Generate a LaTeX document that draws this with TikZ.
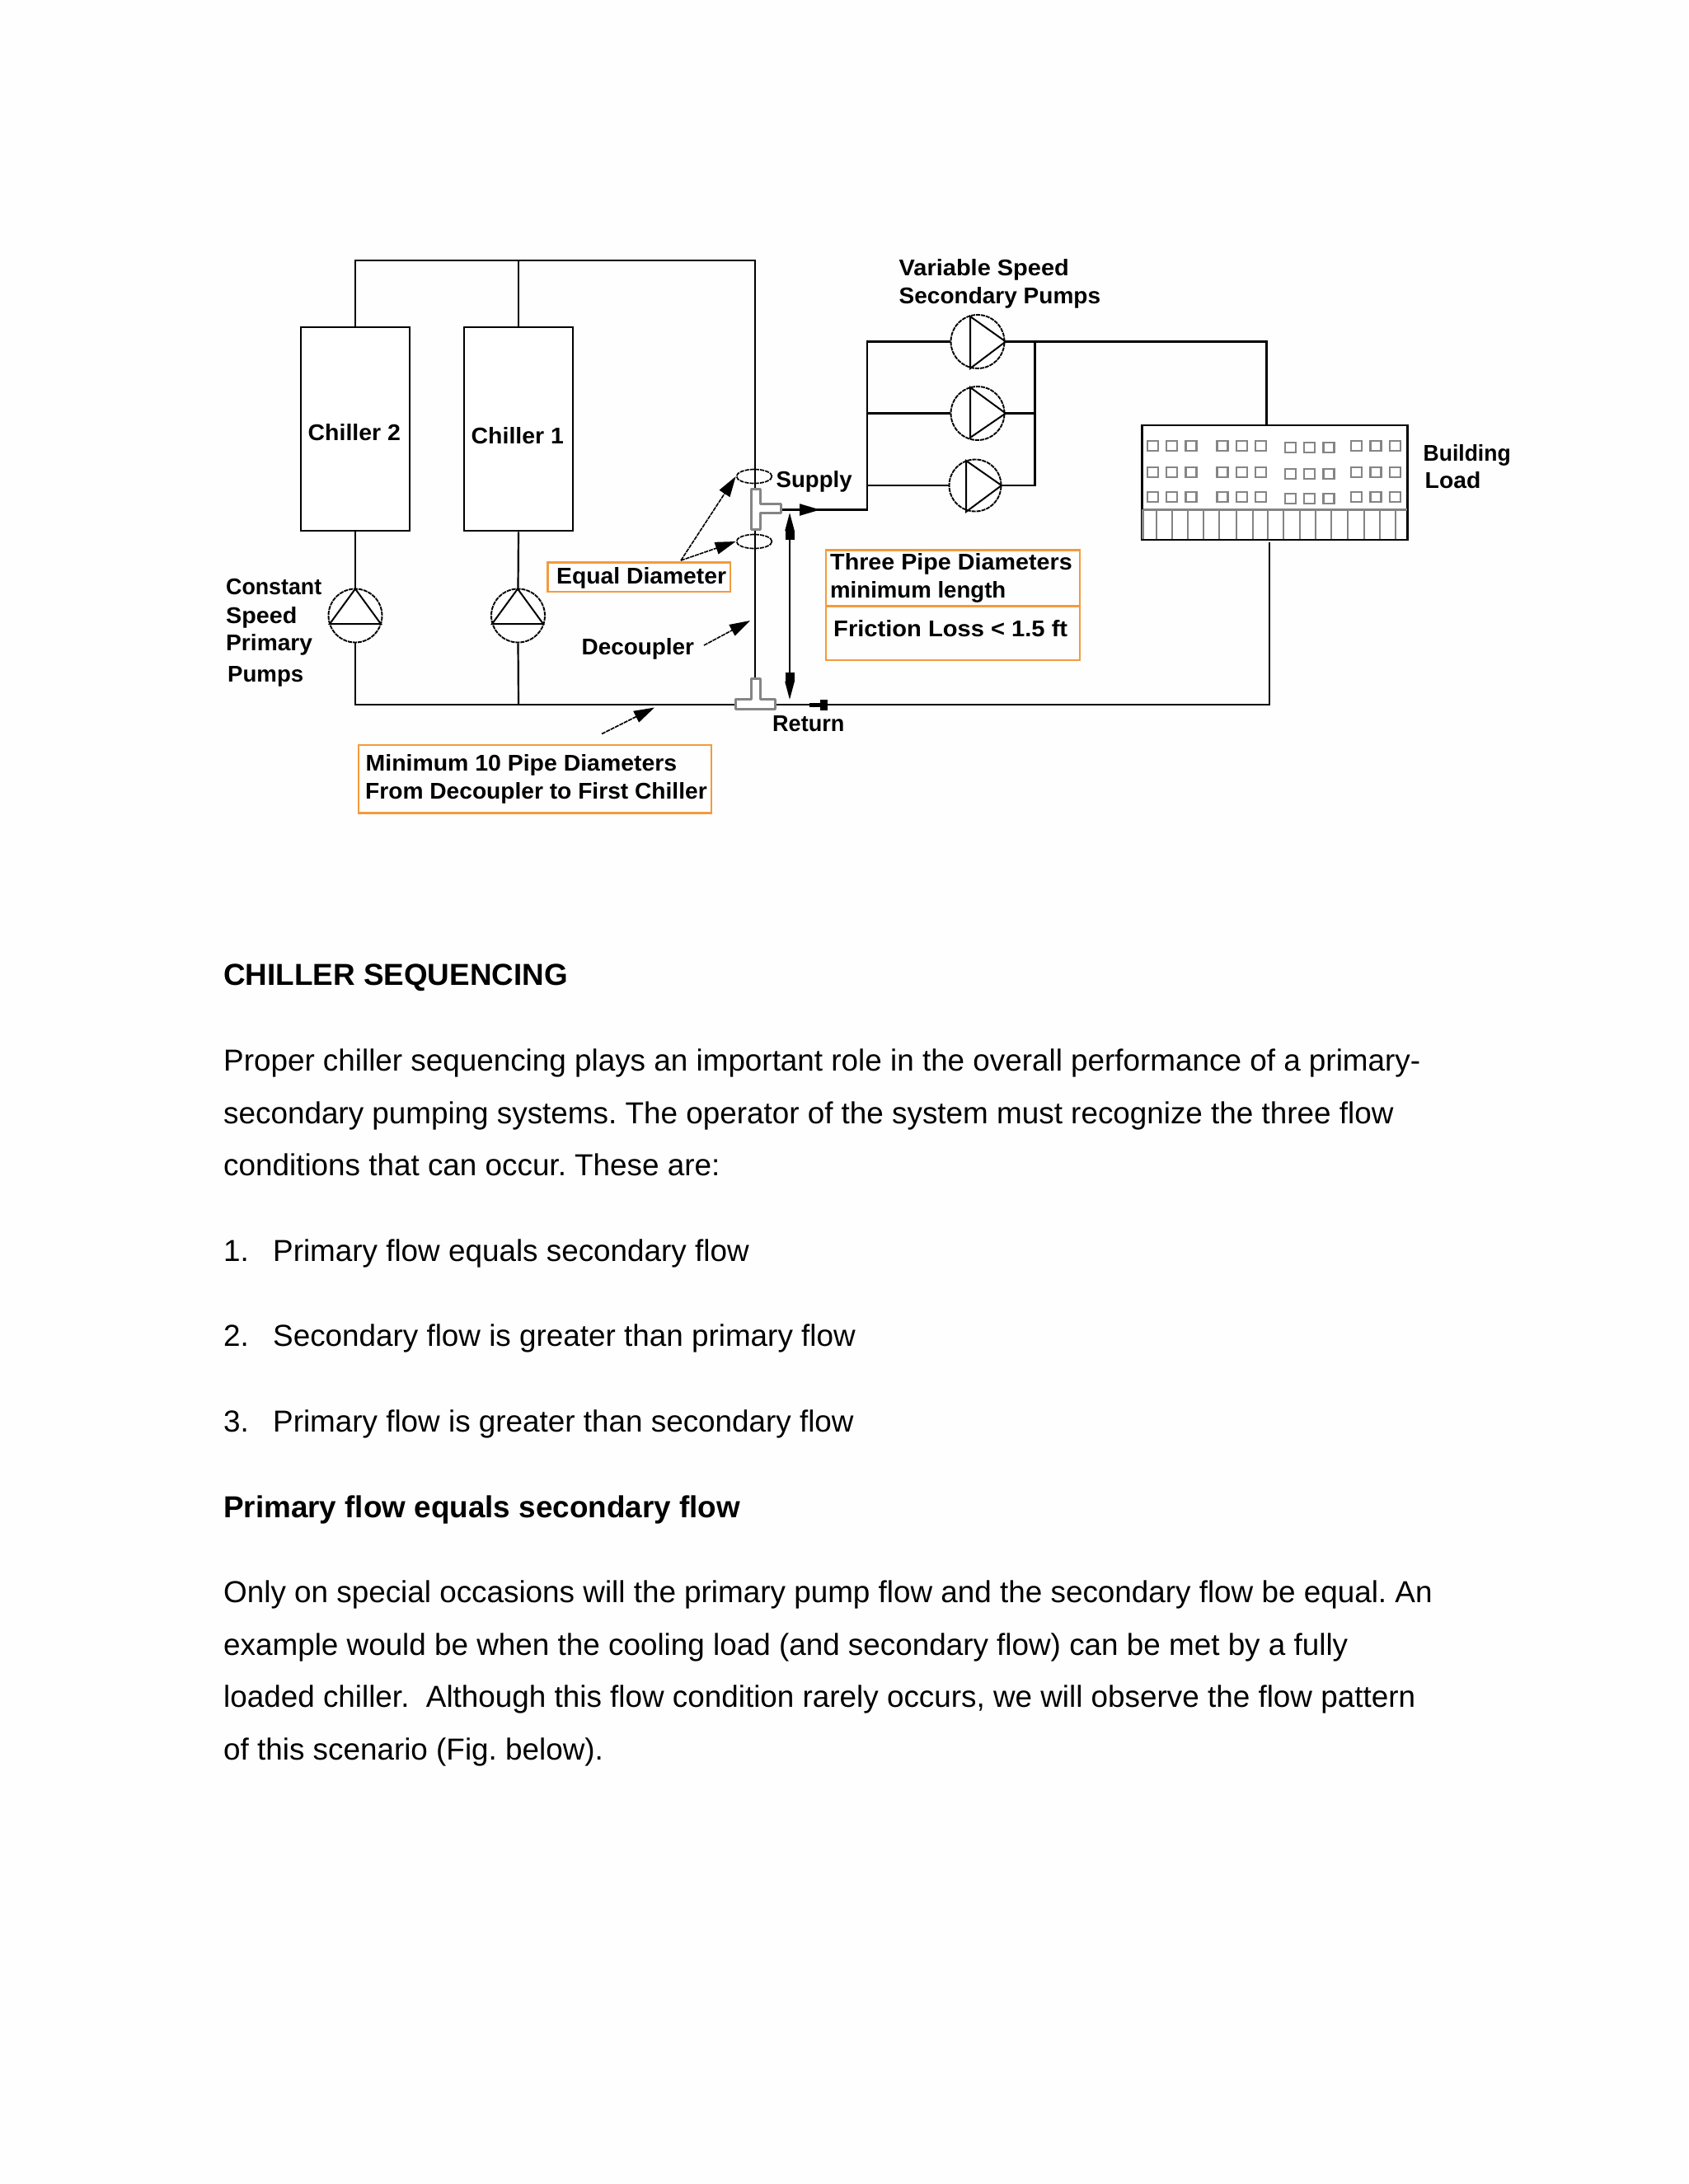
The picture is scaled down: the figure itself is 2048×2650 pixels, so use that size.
\documentclass[tikz,border=0pt]{standalone}
\usepackage{fontspec}
\setmainfont{Liberation Sans}
\usetikzlibrary{arrows.meta,shapes.geometric}
\definecolor{orangebox}{HTML}{F39B3E}
\definecolor{greyline}{HTML}{858585}
\newcommand{\sx}[2]{\scalebox{#1}[1]{#2}}
\tikzset{
  pipe/.style={draw=black,line width=2.2pt},
  chiller/.style={draw=black,line width=2.6pt,fill=white,minimum width=132pt,minimum height=247pt,inner sep=0pt},
  pumpc/.style={circle,draw=black,line width=1.9pt,dash pattern=on 5pt off 1pt,fill=white,minimum size=65pt,inner sep=0pt},
  pumpline/.style={draw=black,line width=2pt},
  ring/.style={ellipse,draw=black,line width=1.7pt,dash pattern=on 5pt off 1.2pt,minimum width=43pt,minimum height=17pt,inner sep=0pt},
  tee/.style={draw=greyline,line width=3pt,fill=white,line join=round},
  lbl/.style={anchor=base west,inner sep=0pt,font=\frenchspacing\fontsize{27.6}{30}\selectfont\bfseries},
  body/.style={anchor=base west,inner sep=0pt,font=\frenchspacing\fontsize{36.85}{44}\selectfont},
  bodyb/.style={body,font=\frenchspacing\fontsize{36.85}{44}\selectfont\bfseries},
  obox/.style={draw=orangebox,line width=2.6pt},
  win/.style={draw=greyline,line width=2.2pt},
  fat/.style={draw=black,line width=2.2pt},
  wedge/.style={draw=black,line width=2.2pt,-{Triangle[length=25pt,width=14pt]}},
  pointer/.style={draw=black,line width=1.6pt,dash pattern=on 5pt off 1pt,-{Triangle[length=25pt,width=15pt]}},
  stub/.style={draw=black,line width=5pt,-{Rectangle[length=9pt,width=13pt]}},
}
\begin{document}
\begin{tikzpicture}[x=1pt,y=-1pt]
\useasboundingbox (0,0) rectangle (2048,2650);
\fill[white!99.5!black] (0,0) rectangle (2048,2650);

% pipes and named junctions
\coordinate (topL) at (431,316);
\coordinate (topM) at (629,316);
\coordinate (topR) at (916,316);
\coordinate (botL) at (431,855);
\coordinate (botM) at (629,855);
\coordinate (retT) at (916,855);
\coordinate (retE) at (1540,855);
\coordinate (supT) at (947,618.5);
\coordinate (manA) at (1052,618.5);
\coordinate (manB) at (1052,414.5);
\coordinate (manC) at (1052,501.5);
\coordinate (manD) at (1052,589);
\coordinate (outA) at (1255.5,414.5);
\coordinate (outB) at (1255.5,501.5);
\coordinate (outC) at (1255.5,589);
\coordinate (outE) at (1536.5,414.5);

\node[chiller] (ch2) at (431,520.5) {};
\node[chiller] (ch1) at (629,520.5) {};
\node[pumpc] (pp2) at (431,747) {};
\node[pumpc] (pp1) at (628.5,747) {};
\node[pumpc] (sp1) at (1186,414.5) {};
\node[pumpc] (sp2) at (1186,501.5) {};
\node[pumpc,minimum size=63pt] (sp3) at (1183,589) {};
\node[draw=black,line width=2.6pt,fill=white,minimum width=322pt,minimum height=139pt,inner sep=0pt] (bld) at (1546.5,585.5) {};

\draw[pipe] (ch2.north) -- (topL) -- (topR) -- (retT);
\draw[pipe] (ch1.north) -- (topM);
\draw[pipe] (ch2.south) -- (pp2.north);
\draw[pipe] (ch1.south) -- (pp1.north);
\draw[pipe] (pp2.south) -- (botL) -- (retE) -- (1540,658);
\draw[pipe] (pp1.south) -- (botM);
\draw[pipe] (supT) -- (manA) -- (manB) -- (sp1.west);
\draw[pipe] (manC) -- (sp2.west);
\draw[pipe] (manD) -- (sp3.west);
\draw[pipe] (sp1.east) -- (outE) -- (bld.north -| outE);
\draw[pipe] (outA) -- (outC) -- (sp3.east);
\draw[pipe] (sp2.east) -- (outB);

% pump symbols
\draw[pumpline] (431,714.5) -- (400,757) -- (462,757) -- cycle;
\draw[pumpline] (628,714.5) -- (597,757) -- (659,757) -- cycle;
\draw[pumpline] (1220,414.5) -- (1177,384) -- (1177,447) -- cycle;
\draw[pumpline] (1220,501.5) -- (1177,470) -- (1177,531) -- cycle;
\draw[pumpline] (1215,589) -- (1172,559) -- (1172,621) -- cycle;

% decoupler fittings
\node[ring] (r1) at (915,578) {};
\node[ring] (r2) at (915,657) {};
\draw[tee] (911,593) -- (922,593) -- (922,611) -- (947,611) -- (947,622) -- (922,622) -- (922,642) -- (911,642) -- cycle;
\draw[tee] (911,823) -- (922,823) -- (922,848) -- (940,848) -- (940,860) -- (892,860) -- (892,848) -- (911,848) -- cycle;

% building
\draw[greyline,line width=3pt] (1386.5,618) -- (1706.5,618);
\draw[greyline,line width=3pt] (1386.5,618) -- (1386.5,654);
\foreach \x in {1402.5,1421.5,1441,1460,1479,1500,1519.5,1538,1557,1576.5,1595.5,1614.5,1635,1654.5,1674,1692.5}
  \draw[greyline,line width=2pt] (\x,618) -- (\x,654);
\foreach \x in {1398.5,1421.5,1445,1483,1506.5,1529.5}{
  \foreach \y in {541,573,603}
    \draw[win] (\x-6.5,\y-6) rectangle (\x+6.5,\y+6);
}
\foreach \x in {1565.5,1588.5,1612}{
  \foreach \y in {543,575,605}
    \draw[win] (\x-6.5,\y-6) rectangle (\x+6.5,\y+6);
}
\foreach \x in {1645.5,1669,1692.5}{
  \foreach \y in {541,573,603}
    \draw[win] (\x-6.5,\y-6) rectangle (\x+6.5,\y+6);
}

% arrows
\coordinate (w1) at (969,618.5);
\coordinate (w2) at (995,618.5);
\draw[wedge] (w1) -- (w2);
\coordinate (dimT) at (958,622);
\coordinate (dimB) at (958,849);
\draw[fat,{Triangle[length=22pt,width=11pt]Rectangle[length=11pt,width=11pt]}-{Rectangle[length=11pt,width=11pt]Triangle[length=22pt,width=11pt]}] (dimT) -- (dimB);
\coordinate (st1) at (982,855);
\coordinate (st2) at (1003.5,855);
\draw[stub] (st1) -- (st2);
\coordinate (eqsrc) at (826,680);
\draw[pointer] (eqsrc) -- (r1.west);
\draw[pointer] (eqsrc) -- (r2.west);
\coordinate (desrc) at (854,783);
\coordinate (detip) at (910,753);
\draw[pointer] (desrc) -- (detip);
\coordinate (misrc) at (730,890.5);
\coordinate (mitip) at (794,858.5);
\draw[pointer] (misrc) -- (mitip);

% orange boxes
\node[obox,minimum width=221.5pt,minimum height=35.5pt,inner sep=0pt] (eqb) at (775.2,700.2) {};
\node[obox,minimum width=428pt,minimum height=82.5pt,inner sep=0pt] (mnb) at (649,945.2) {};
\node[obox,minimum width=308pt,minimum height=133.5pt,inner sep=0pt] (thb) at (1156,734.3) {};
\draw[obox] (thb.west |- 0,735.6) -- (thb.east |- 0,735.6);

% diagram labels
\node[lbl] (t1) at (373.5,534) {\sx{1.03}{Chiller 2}};
\node[lbl] (t2) at (571.5,538) {\sx{1.03}{Chiller 1}};
\node[lbl] (t3) at (274,721.5) {\sx{.97}{Constant}};
\node[lbl] (t4) at (274,756) {\sx{1.04}{Speed}};
\node[lbl] (t5) at (274,789.5) {\sx{1.02}{Primary}};
\node[lbl] (t6) at (276,827) {Pumps};
\node[lbl] (t7) at (675,708.5) {\sx{1.025}{Equal Diameter}};
\node[lbl] (t8) at (705.5,794) {\sx{1.01}{Decoupler}};
\node[lbl] (t9) at (443.5,935) {\sx{1.03}{Minimum 10 Pipe Diameters}};
\node[lbl] (t10) at (443,969.5) {\sx{1.02}{From Decoupler to First Chiller}};
\node[lbl] (t11) at (941.5,591.5) {Supply};
\node[lbl] (t12) at (937,887) {\sx{.98}{Return}};
\node[lbl] (t13) at (1090.5,334) {\sx{1.05}{Variable Speed}};
\node[lbl] (t14) at (1090.5,368) {\sx{1.015}{Secondary Pumps}};
\node[lbl] (t15) at (1007,691.5) {\sx{1.04}{Three Pipe Diameters}};
\node[lbl] (t16) at (1007,725) {minimum length};
\node[lbl] (t17) at (1011,772) {\sx{1.055}{Friction Loss < 1.5 ft}};
\node[lbl] (t18) at (1726.5,559.5) {\sx{.96}{Building}};
\node[lbl] (t19) at (1728.5,592) {\sx{1.025}{Load}};

% text
\node[bodyb] (b1) at (271,1195.5) {CHILLER SEQUENCING};
\node[body] (b2) at (271,1299.5) {Proper chiller sequencing plays an important role in the overall performance of a primary-};
\node[body] (b3) at (271,1363) {secondary pumping systems. The operator of the system must recognize the three flow};
\node[body] (b4) at (271,1426) {conditions that can occur. These are:};
\node[body] (b5) at (271,1530) {1.};
\node[body] (b6) at (331,1530) {Primary flow equals secondary flow};
\node[body] (b7) at (271,1633.5) {2.};
\node[body] (b8) at (331,1633.5) {Secondary flow is greater than primary flow};
\node[body] (b9) at (271,1737) {3.};
\node[body] (b10) at (331,1737) {Primary flow is greater than secondary flow};
\node[bodyb] (b11) at (271,1841) {Primary flow equals secondary flow};
\node[body] (b12) at (271,1944.5) {Only on special occasions will the primary pump flow and the secondary flow be equal. An};
\node[body] (b13) at (271,2008) {example would be when the cooling load (and secondary flow) can be met by a fully};
\node[body] (b14) at (271,2071.5) {loaded chiller.\ \ Although this flow condition rarely occurs, we will observe the flow pattern};
\node[body] (b15) at (271,2135) {of this scenario (Fig. below).};
\end{tikzpicture}
\end{document}
